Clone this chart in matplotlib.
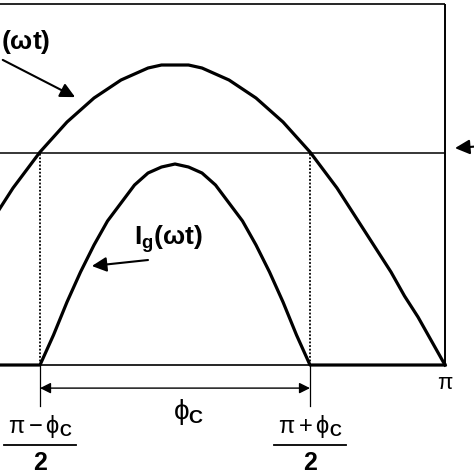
import matplotlib.pyplot as plt
import numpy as np

# phase in units of pi, amplitudes (normalised to peak = 1)
phase = [0.150, 0.175, 0.200, 0.225, 0.250, 0.275, 0.300, 0.325, 0.350, 0.375,
         0.400, 0.425, 0.450, 0.475, 0.500, 0.525, 0.550, 0.575, 0.600, 0.625,
         0.650, 0.675, 0.700, 0.725, 0.750, 0.775, 0.800, 0.825, 0.850, 0.875,
         0.900, 0.925, 0.950, 0.975, 1.000]
v_wave = [0.45, 0.52, 0.59, 0.65, 0.71, 0.76, 0.81, 0.85, 0.89, 0.92,
          0.95, 0.97, 0.99, 1.00, 1.00, 1.00, 0.99, 0.97, 0.95, 0.92,
          0.89, 0.85, 0.81, 0.76, 0.71, 0.65, 0.59, 0.52, 0.45, 0.38,
          0.31, 0.23, 0.16, 0.08, 0.00]
ig_wave = [0.00, 0.00, 0.00, 0.00, 0.00, 0.10, 0.21, 0.31, 0.40, 0.48,
           0.54, 0.60, 0.64, 0.66, 0.67, 0.66, 0.64, 0.60, 0.54, 0.48,
           0.40, 0.31, 0.21, 0.10, 0.00, 0.00, 0.00, 0.00, 0.00, 0.00,
           0.00, 0.00, 0.00, 0.00, 0.00]
threshold = 0.707
phi_lo, phi_hi = 0.25, 0.75   # (pi - phi_c)/2 and (pi + phi_c)/2, in units of pi
frame_top = 1.203

plt.rcParams['mathtext.fontset'] = 'custom'
plt.rcParams['mathtext.rm'] = 'Liberation Sans'
plt.rcParams['mathtext.it'] = 'Liberation Sans'
plt.rcParams['mathtext.bf'] = 'Liberation Sans:bold'
plt.rcParams['font.family'] = ['Liberation Sans', 'DejaVu Sans']

fig = plt.figure(figsize=(4.74, 4.74), dpi=100)
ax = fig.add_axes([0, 0, 1, 1])
ax.set_xlim(0.1759, 1.0537)
ax.set_ylim(-0.3633, 1.2167)
ax.axis('off')

xmin = 0.1759
k = dict(color='black', solid_capstyle='butt')
# frame
ax.plot([xmin, 1.0], [frame_top, frame_top], lw=1.2, **k)
ax.plot([1.0, 1.0], [0, frame_top], lw=1.4, **k)
ax.plot([xmin, 1.0], [0, 0], lw=1.2, **k)
ax.plot([xmin, 1.0], [threshold, threshold], lw=1.1, **k)

# curves
ax.plot(phase, v_wave, lw=2.3, color='black', solid_joinstyle='round')
ax.plot(phase, ig_wave, lw=2.3, color='black', solid_joinstyle='round')

# dotted drop lines and ticks
for p in (phi_lo, phi_hi):
    ax.plot([p, p], [0, threshold], ls=(0, (1, 1.0)), lw=1.3, color='black')
    ax.plot([p, p], [0, -0.135], lw=0.9, color='black')

# phi_c span arrow
ax.annotate('', xy=(phi_lo, -0.077), xytext=(phi_hi, -0.077),
            arrowprops=dict(arrowstyle='<|-|>', color='black', lw=1.0,
                            mutation_scale=16, shrinkA=0, shrinkB=0))

# pointer arrows
ax.annotate('', xy=(0.315, 0.893), xytext=(0.181, 1.017),
            arrowprops=dict(arrowstyle='-|>', color='black', lw=1.5,
                            mutation_scale=22, shrinkA=0, shrinkB=0))
ax.annotate('', xy=(0.346, 0.33), xytext=(0.45, 0.35),
            arrowprops=dict(arrowstyle='-|>', color='black', lw=1.5,
                            mutation_scale=22, shrinkA=0, shrinkB=0))
ax.annotate('', xy=(1.0185, 0.723), xytext=(1.09, 0.733),
            arrowprops=dict(arrowstyle='-|>', color='black', lw=1.5,
                            mutation_scale=22, shrinkA=0, shrinkB=0),
            annotation_clip=False)

# labels
ax.text(0.1775, 1.077, r'$\mathbf{(\omega t)}$', fontsize=19, ha='left', va='center')
ax.text(0.424, 0.42, r'$\mathbf{I_g(\omega t)}$', fontsize=19, ha='left', va='center')
ax.text(0.497, -0.155, r'$\phi_\mathbf{C}$', fontsize=20, ha='left', va='center')
ax.text(1.0, -0.06, r'$\pi$', fontsize=16, ha='center', va='center')

for p, sign, half in ((phi_lo, '-', 0.066), (phi_hi, '+', 0.066)):
    ax.text(p, -0.205, r'$\pi %s \phi_\mathbf{C}$' % sign, fontsize=17,
            ha='center', va='center')
    ax.plot([p - half, p + half], [-0.268, -0.268], lw=1.3, color='black')
    ax.text(p, -0.325, '2', fontsize=18, fontweight='bold', ha='center', va='center')

fig.savefig('out.png', dpi=100)
